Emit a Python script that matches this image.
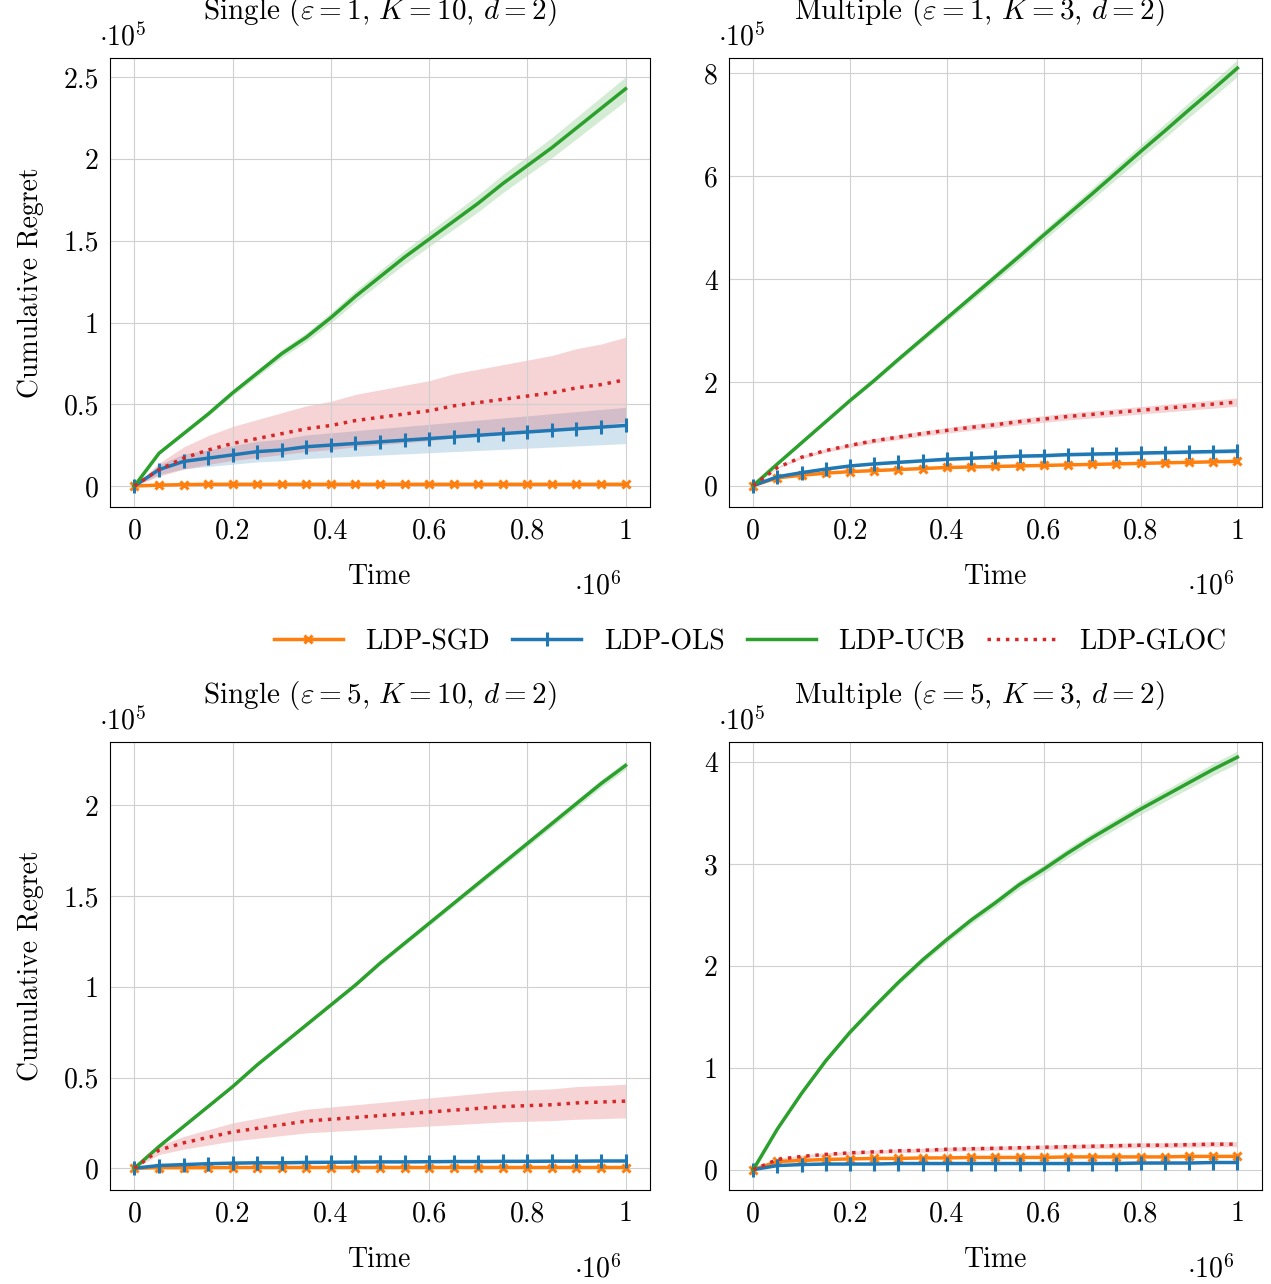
import numpy as np, pandas as pd, matplotlib
matplotlib.use("Agg")
import matplotlib.pyplot as plt, seaborn as sns
from matplotlib.ticker import FuncFormatter, MultipleLocator

plt.rcParams.update({"font.family": "cmr10", "mathtext.fontset": "cm",
                     "axes.unicode_minus": False, "font.size": 20,
                     "axes.formatter.use_mathtext": True})

time = [i * 50000 for i in range(21)]
k = 1000
# panel 1: Single eps=1
p1_ucb = [0,20,32,44,57,69,81,91,103,116,128,140,151,162,173,185,196,207,219,231,243]
p1_gloc = [0,10,17,22,26,29,32,35,37,40,42,44,46,49,51,53,55,57,60,62,65]
p1_ols = [0,10,15,17,19,21,22,24,25,26,27,28,29,30,31,32,33,34,35,36,37]
p1_sgd = [0,0.5,0.8,1,1,1,1,1,1,1,1,1,1,1,1,1,1,1,1,1,1]
# panel 2: Multiple eps=1
p2_ucb = [0,42,83,124,165,204,245,285,325,365,405,445,486,526,566,607,648,688,729,769,810]
p2_gloc = [0,35,55,68,78,87,94,101,107,113,118,124,129,134,138,142,146,150,154,158,162]
p2_ols = [0,17,25,32,38,42,45,48,51,53,55,57,58,60,61,62,63,64,65,66,67]
p2_sgd = [0,15,20,24,27,29,31,33,35,36,37,38,39,40,41,42,43,44,45,46,47]
# panel 3: Single eps=5
p3_ucb = [0,12,23,34,45,57,68,79,90,101,113,124,135,146,157,168,179,190,201,212,222]
p3_gloc = [0,10,14,17,20,22,24,26,27,28,29,30,31,32,33,34,34.5,35,36,36.5,37]
p3_ols = [0,1.5,2,2.5,2.8,3,3,3.2,3.3,3.4,3.5,3.5,3.6,3.7,3.7,3.8,3.8,3.9,3.9,4,4]
p3_sgd = [0,0.3,0.3,0.3,0.4,0.4,0.4,0.4,0.4,0.4,0.4,0.4,0.4,0.4,0.4,0.4,0.4,0.4,0.4,0.4,0.4]
# panel 4: Multiple eps=5
p4_ucb = [0,40,75,107,135,160,184,206,226,245,262,280,295,311,326,340,354,367,380,393,405]
p4_gloc = [0,10,13,15,16.5,17.5,18.5,19,20,20.5,21,21.5,22,22.5,23,23.5,24,24,24.5,25,25]
p4_sgd = [0,8,9,10,10.5,11,11,11.5,11.5,12,12,12,12,12.5,12.5,12.5,12.5,12.5,13,13,13]
p4_ols = [0,4,5,5.5,5.5,5.5,6,6,6,6,6,6,6,6,6,6,6.5,6.5,6.5,7,7]

panels = [
    ("Single ($\\varepsilon = 1$, $K = 10$, $d = 2$)", p1_sgd, p1_ols, p1_ucb, p1_gloc, (0.3, 0.03, 0.4), 0.5, (-0.13, 2.62)),
    ("Multiple ($\\varepsilon = 1$, $K = 3$, $d = 2$)", p2_sgd, p2_ols, p2_ucb, p2_gloc, (0.06, 0.02, 0.05), 2, (-0.42, 8.3)),
    ("Single ($\\varepsilon = 5$, $K = 10$, $d = 2$)", p3_sgd, p3_ols, p3_ucb, p3_gloc, (0.1, 0.01, 0.25), 0.5, (-0.12, 2.35)),
    ("Multiple ($\\varepsilon = 5$, $K = 3$, $d = 2$)", p4_sgd, p4_ols, p4_ucb, p4_gloc, (0.1, 0.015, 0.1), 1, (-0.2, 4.2)),
]
rects = [[0.0865, 0.605, 0.425, 0.35], [0.5736, 0.605, 0.419, 0.35],
         [0.0865, 0.0732, 0.425, 0.349], [0.5736, 0.0732, 0.419, 0.349]]
cols = {"SGD": "#ff7f0e", "OLS": "#1f77b4", "UCB": "#2ca02c", "GLOC": "#d62728"}

fig = plt.figure(figsize=(12.71, 12.84), dpi=100)
handles = None
for i, (title, sgd, ols, ucb, gloc, bands, ystep, ylim) in enumerate(panels):
    ax = fig.add_axes(rects[i])
    x = np.array(time)
    series = [("SGD", sgd, "x", 0.0), ("OLS", ols, "|", bands[0]),
              ("UCB", ucb, None, bands[1]), ("GLOC", gloc, None, bands[2])]
    for name, vals, mk, b in series:
        v = np.array(vals) * k
        if b > 0:
            ax.fill_between(x, v * (1 - b), v * (1 + b), color=cols[name], alpha=0.2, lw=0)
        sns.lineplot(x=x, y=v, ax=ax, color=cols[name], lw=2.5,
                     ls=":" if name == "GLOC" else "-",
                     marker=mk, markersize=10 if mk == "|" else 6, mew=2.2,
                     mec=cols[name], label="LDP-" + name)
    ax.get_legend().remove()
    ax.set_xlim(-50000, 1050000)
    ax.set_ylim(ylim[0] * 1e5, ylim[1] * 1e5)
    ax.xaxis.set_major_locator(MultipleLocator(200000))
    ax.yaxis.set_major_locator(MultipleLocator(ystep * 1e5))
    ax.xaxis.set_major_formatter(FuncFormatter(lambda v, p: "%g" % round(v / 1e6, 3)))
    ax.yaxis.set_major_formatter(FuncFormatter(lambda v, p: "%g" % round(v / 1e5, 3)))
    ax.grid(True, color="#d0d0d0", lw=0.8)
    ax.tick_params(labelsize=20, length=0, pad=8)
    for s in ax.spines.values():
        s.set_linewidth(0.8)
    ax.set_xlabel("Time", fontsize=20, labelpad=14)
    if i % 2 == 0:
        ax.set_ylabel("Cumulative Regret", fontsize=20, labelpad=14)
    ax.set_title(title, fontsize=21, pad=28, x=0.5 if i % 2 == 0 else 0.47)
    ax.text(-0.02, 1.015, "$\\cdot 10^5$", transform=ax.transAxes, fontsize=20, va="bottom")
    ax.text(0.86, -0.145, "$\\cdot 10^6$", transform=ax.transAxes, fontsize=20, va="top")
    handles = ax.get_legend_handles_labels()

fig.legend(*handles, loc="center", bbox_to_anchor=(0.59, 0.5), ncol=4, frameon=False,
           fontsize=20, handlelength=2.5, columnspacing=0.8)
fig.savefig("out.png", dpi=100)
